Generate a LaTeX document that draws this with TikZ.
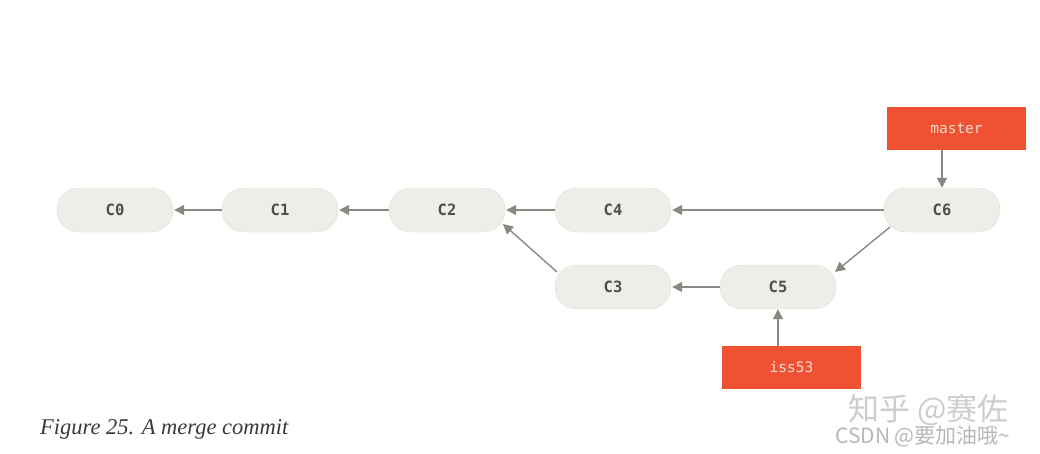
\documentclass[tikz,border=0pt]{standalone}
\usepackage{fontspec}
\setmainfont{Liberation Serif}
\setmonofont{DejaVu Sans Mono}
\newfontfamily\cjk{Noto Sans CJK SC}
\usetikzlibrary{arrows.meta}
\definecolor{commitfill}{HTML}{EEEDE8}
\definecolor{commitline}{HTML}{E2E0DA}
\definecolor{arrowgray}{HTML}{8C8781}
\definecolor{branchred}{HTML}{F05133}
\definecolor{branchtext}{HTML}{F8DCD2}
\definecolor{textdark}{HTML}{3A3A3A}
\definecolor{wmgray}{HTML}{B8B8B8}
\tikzset{
  commit/.style={draw=commitline, fill=commitfill, rounded corners=21.5pt,
    minimum width=116pt, minimum height=44pt, inner sep=0pt,
    font=\ttfamily\bfseries\fontsize{15.5}{15.5}\selectfont, text=textdark!90},
  branch/.style={fill=branchred, minimum width=139pt, minimum height=43pt,
    inner sep=0pt, font=\ttfamily\fontsize{14.5}{14.5}\selectfont, text=branchtext},
  arr/.style={draw=arrowgray, line width=1.4pt,
    -{Triangle[length=10pt,width=10pt]}}
}
\begin{document}
\begin{tikzpicture}[x=1pt,y=-1pt]
\useasboundingbox[fill=white] (0,0) rectangle (1040,453);
\node[commit] (C0) at (115,210) {C0};
\node[commit] (C1) at (280,210) {C1};
\node[commit] (C2) at (447,210) {C2};
\node[commit] (C4) at (613,210) {C4};
\node[commit] (C6) at (942,210) {C6};
\node[commit] (C3) at (613,287) {C3};
\node[commit] (C5) at (778,287) {C5};
\node[branch] (master) at (956.5,128.5) {master};
\node[branch] (iss53) at (791.5,367.5) {iss53};

\draw[arr] (C1.west) -- ([xshift=1pt]C0.east);
\draw[arr] (C2.west) -- ([xshift=1pt]C1.east);
\draw[arr] (C4.west) -- ([xshift=1pt]C2.east);
\draw[arr] (C6.west) -- ([xshift=1pt]C4.east);
\draw[arr] (C5.west) -- ([xshift=1pt]C3.east);
\draw[arr] ([shift={(-52,17)}]C6.center) -- ([shift={(57,-15)}]C5.center);
\draw[arr] ([shift={(-56,-15)}]C3.center) -- ([shift={(56,14)}]C2.center);
\draw[arr] (master.south -| C6.center) -- (C6.north);
\draw[arr] (iss53.north -| C5.center) -- (C5.south);

\node[anchor=base west, inner sep=0pt, text=textdark,
  font=\itshape\fontsize{22.5}{22.5}\selectfont] (cap) at (40,434) {Figure 25. A merge commit};

\node[anchor=base west, inner sep=0pt, text=wmgray!70,
  font=\cjk\fontsize{31}{31}\selectfont] (wm1) at (848,420) {知乎 @赛佐};
\node[anchor=base west, inner sep=0pt, text=wmgray,
  font=\cjk\fontsize{21}{21}\selectfont] (wm2) at (835,443) {CSDN @要加油哦\textasciitilde};
\end{tikzpicture}
\end{document}
